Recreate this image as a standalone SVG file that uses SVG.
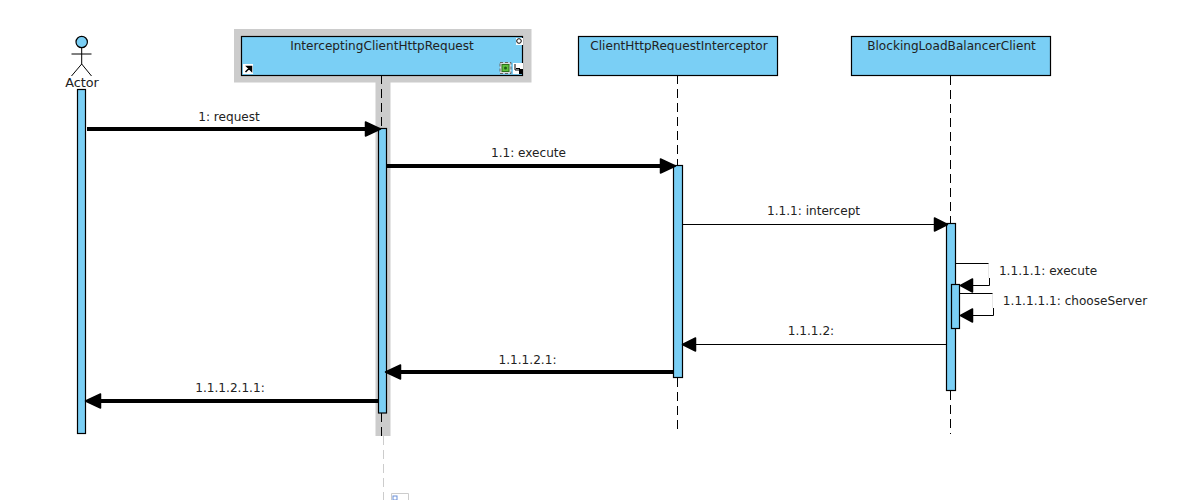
<svg xmlns="http://www.w3.org/2000/svg" width="1196" height="500" viewBox="0 0 1196 500">
<style>
text{font-family:"DejaVu Sans",sans-serif;font-size:12.100px;fill:#222;text-anchor:middle}
.b{fill:#7acff5;stroke:#000;stroke-width:1.200}
.life{stroke:#000;stroke-width:1;stroke-dasharray:9 5;fill:none}
.thick{stroke:#000;stroke-width:4;fill:none}
.thin{stroke:#000;stroke-width:1;fill:none}
.pale{stroke:#e8e8e8;stroke-width:1;fill:none}
.ah{fill:#000;stroke:#000;stroke-width:1.500;stroke-linejoin:round}
.g{fill:#cccccc}
</style>
<rect width="1196" height="500" fill="#fff"/>
<g id="selection-highlight">
<rect class="g" x="234" y="29" width="297.500" height="53.500"/>
<rect class="g" x="375.500" y="82" width="15" height="354"/>
<path d="M383.500 436V500" stroke="#ccc" stroke-width="1" stroke-dasharray="9 5" fill="none"/>
<path d="M391.500 500V493.500H408.500V500" fill="#fff" stroke="#ccc"/>
<rect x="393" y="496" width="4" height="4" fill="#fff" stroke="#6a8fd8"/>
</g>
<g id="lifelines">
<path class="life" d="M381.500 75V128M381.500 413V436"/>
<path class="life" d="M677.500 75V166M677.500 378V434"/>
<path class="life" d="M950.500 76V223M950.500 391V434"/>
</g>
<g id="actor">
<circle class="b" cx="81.700" cy="42" r="5.700"/>
<path class="thin" d="M81.700 48V64M71.500 54H91.500M81.700 64L71.500 76M81.700 64L91.500 76"/>
<text x="82" y="87" style="font-size:12.800px">Actor</text>
<rect class="b" x="77.500" y="89.500" width="8" height="344"/>
</g>
<g id="n-interceptingclienthttprequest">
<rect class="b" x="241.500" y="36.500" width="281" height="39"/>
<text x="382" y="50">InterceptingClientHttpRequest</text>
<rect x="243" y="64" width="10" height="10" fill="#fff"/>
<path d="M245.500 72L250 67.500M247 66.500H251.500V71Z" stroke="#000" stroke-width="1.500" fill="#000"/>
<rect x="516" y="38" width="7" height="7" fill="#fff"/>
<circle cx="519" cy="41" r="2.300" fill="#fff" stroke="#000"/>
<rect x="500" y="62.500" width="11" height="11" fill="#ddd" stroke="#666" stroke-dasharray="3 2"/>
<rect x="502" y="64.500" width="7" height="7" fill="#5fc23c" stroke="#2c6e1d"/>
<circle cx="505.500" cy="68" r="1.500" fill="#1f5a14"/>
<rect x="513" y="63" width="10" height="11" fill="#fff"/>
<path d="M515 64V70H519" stroke="#000" fill="none"/>
<rect x="519" y="69" width="4" height="5" fill="#000"/>
<path d="M516 68.500H520" stroke="#000"/>
<rect class="b" x="378.500" y="128.500" width="8" height="284.500"/>
</g>
<g id="n-clienthttprequestinterceptor">
<rect class="b" x="578.500" y="36.500" width="199" height="39"/>
<text x="679" y="50">ClientHttpRequestInterceptor</text>
<rect class="b" x="673.500" y="165.500" width="9" height="212"/>
</g>
<g id="n-blockingloadbalancerclient">
<rect class="b" x="851.500" y="36.500" width="199" height="39"/>
<text x="951.500" y="50">BlockingLoadBalancerClient</text>
<rect class="b" x="946.500" y="223.500" width="9" height="167"/>
<rect class="b" x="951.500" y="284.500" width="8" height="44"/>
</g>
<g id="connectors">
<path class="thick" d="M87 129H366"/><path class="ah" d="M365.500 122L380.500 129L365.500 136Z"/>
<path class="thick" d="M387 166H662"/><path class="ah" d="M660.500 159L675.500 166L660.500 173Z"/>
<path class="thin" d="M683 224.500H935"/><path class="ah" d="M934.500 218L947.500 224.500L934.500 231Z"/>
<path class="thin" d="M956 263.500H989"/><path class="pale" d="M988.500 263.500V278"/><path class="thin" d="M989.500 278V285.500H972"/><path class="ah" d="M972.500 279L960.500 285.500L972.500 292Z"/>
<path class="thin" d="M960 293.500H993"/><path class="pale" d="M992.500 293.500V308"/><path class="thin" d="M993.500 308V315.500H972"/><path class="ah" d="M972.500 309L960.500 315.500L972.500 322Z"/>
<path class="thin" d="M947 344.500H695"/><path class="ah" d="M695.500 338L682.500 344.500L695.500 351Z"/>
<path class="thick" d="M674 372H400"/><path class="ah" d="M400.500 365L385.500 372L400.500 379Z"/>
<path class="thick" d="M379 401H100"/><path class="ah" d="M100.500 394L85.500 401L100.500 408Z"/>
</g>
<g id="labels">
<text x="229" y="121">1: request</text>
<text x="528.500" y="157">1.1: execute</text>
<text x="813.500" y="215">1.1.1: intercept</text>
<text x="1048" y="275">1.1.1.1: execute</text>
<text x="1075" y="305">1.1.1.1.1: chooseServer</text>
<text x="811" y="335">1.1.1.2:</text>
<text x="527.500" y="364">1.1.1.2.1:</text>
<text x="230" y="392">1.1.1.2.1.1:</text>
</g>
</svg>
